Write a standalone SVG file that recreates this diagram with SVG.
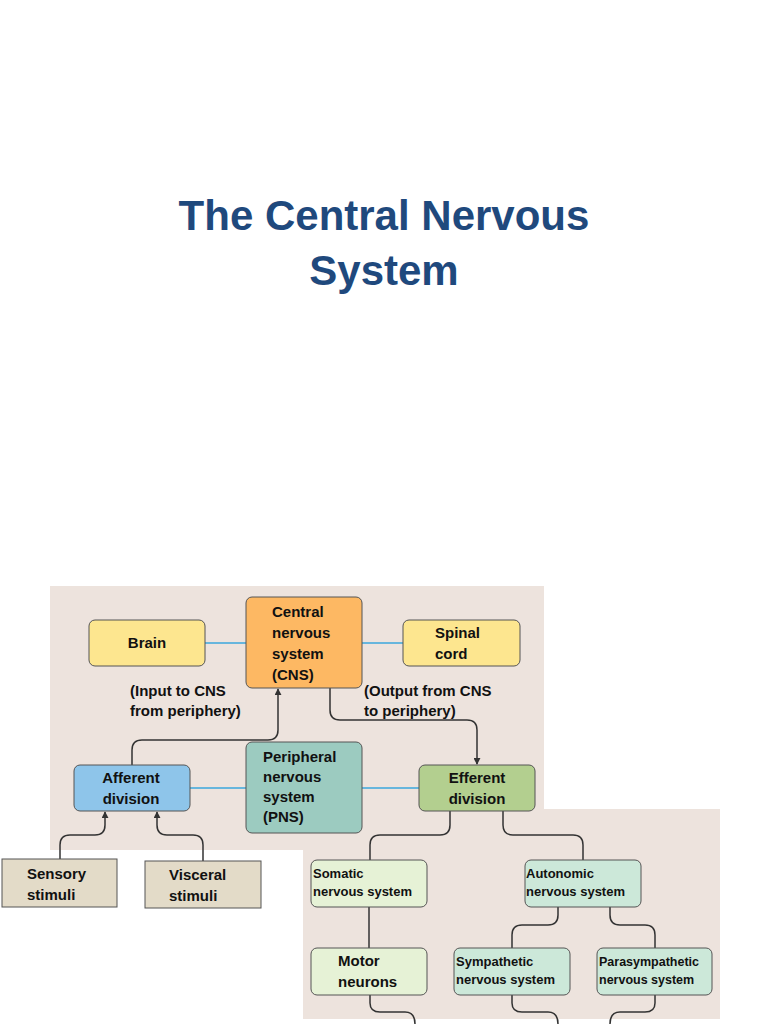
<svg xmlns="http://www.w3.org/2000/svg" width="768" height="1024" viewBox="0 0 768 1024">
<defs>
<marker id="ah" viewBox="0 0 8 8" refX="7" refY="4" markerWidth="7" markerHeight="7" orient="auto" markerUnits="userSpaceOnUse"><path d="M0,0 L8,4 L0,8 z" fill="#333"/></marker>
<style>
.t{font-family:"Liberation Sans",Arial,sans-serif;font-weight:bold;fill:#111}
.m{font-size:15px}.s{font-size:13px}
.b{stroke:#555;stroke-width:1}
.c{fill:none;stroke:#333;stroke-width:1.5}
.bl{stroke:#3aa7dc;stroke-width:1.5}
</style>
</defs>
<rect width="768" height="1024" fill="#fff"/>
<text x="384" y="230" text-anchor="middle" font-family="Liberation Sans,Arial,sans-serif" font-weight="bold" font-size="42" fill="#1f497d">The Central Nervous</text>
<text x="384" y="285" text-anchor="middle" font-family="Liberation Sans,Arial,sans-serif" font-weight="bold" font-size="42" fill="#1f497d">System</text>
<rect x="50" y="586" width="494" height="264" fill="#ede3dd"/>
<rect x="303" y="809" width="417" height="210" fill="#ede3dd"/>
<g id="connectors">
<line class="bl" x1="205" y1="643" x2="246" y2="643"/>
<line class="bl" x1="362" y1="643" x2="403" y2="643"/>
<line class="bl" x1="190" y1="788" x2="246" y2="788"/>
<line class="bl" x1="362" y1="788" x2="419" y2="788"/>
<path class="c" d="M132,765 V750 Q132,740 142,740 H268 Q278,740 278,730 V689" marker-end="url(#ah)"/>
<path class="c" d="M330,688 V710 Q330,720 340,720 H467 Q477,720 477,730 V764" marker-end="url(#ah)"/>
<path class="c" d="M60,859 V845 Q60,835 70,835 H95 Q105,835 105,825 V812" marker-end="url(#ah)"/>
<path class="c" d="M203,861 V845 Q203,835 193,835 H167 Q157,835 157,825 V812" marker-end="url(#ah)"/>
<path class="c" d="M450,811 V825 Q450,835 440,835 H380 Q370,835 370,845 V860"/>
<path class="c" d="M503,811 V825 Q503,835 513,835 H573 Q583,835 583,845 V860"/>
<line class="c" x1="369" y1="907" x2="369" y2="948"/>
<path class="c" d="M558,907 V915 Q558,925 548,925 H522 Q512,925 512,935 V948"/>
<path class="c" d="M610,907 V915 Q610,925 620,925 H645 Q655,925 655,935 V948"/>
<path class="c" d="M370,995 V1003 Q370,1012 380,1012 H405 Q415,1012 415,1024"/>
<path class="c" d="M512,995 V1003 Q512,1012 522,1012 H548 Q558,1012 558,1024"/>
<path class="c" d="M655,995 V1003 Q655,1012 645,1012 H620 Q610,1012 610,1024"/>
</g>
<g id="brain"><rect class="b" x="89" y="620" width="116" height="46" rx="6" fill="#fde68f"/><text class="t m" x="147" y="648" text-anchor="middle">Brain</text></g>
<g id="cns"><rect class="b" x="246" y="597" width="116" height="91" rx="6" fill="#fdb863"/><text class="t m" x="272" y="617">Central<tspan x="272" dy="21">nervous</tspan><tspan x="272" dy="21">system</tspan><tspan x="272" dy="21">(CNS)</tspan></text></g>
<g id="spinal"><rect class="b" x="403" y="620" width="117" height="46" rx="6" fill="#fde68f"/><text class="t m" x="435" y="638">Spinal<tspan x="435" dy="21">cord</tspan></text></g>
<g id="input-label"><text class="t m" x="130" y="696">(Input to CNS<tspan x="130" dy="20">from periphery)</tspan></text></g>
<g id="output-label"><text class="t m" x="364" y="696">(Output from CNS<tspan x="364" dy="20">to periphery)</tspan></text></g>
<g id="afferent"><rect class="b" x="74" y="765" width="116" height="46" rx="6" fill="#8ec5ea"/><text class="t m" x="131" y="783" text-anchor="middle">Afferent<tspan x="131" dy="21">division</tspan></text></g>
<g id="pns"><rect class="b" x="246" y="742" width="116" height="91" rx="6" fill="#9ccbc0"/><text class="t m" x="263" y="762">Peripheral<tspan x="263" dy="20">nervous</tspan><tspan x="263" dy="20">system</tspan><tspan x="263" dy="20">(PNS)</tspan></text></g>
<g id="efferent"><rect class="b" x="419" y="765" width="116" height="46" rx="6" fill="#b3cf8f"/><text class="t m" x="477" y="783" text-anchor="middle">Efferent<tspan x="477" dy="21">division</tspan></text></g>
<g id="sensory"><rect class="b" x="2" y="859" width="115" height="48" fill="#e3dbc8"/><text class="t m" x="27" y="879">Sensory<tspan x="27" dy="21">stimuli</tspan></text></g>
<g id="visceral"><rect class="b" x="145" y="861" width="116" height="47" fill="#e3dbc8"/><text class="t m" x="169" y="880">Visceral<tspan x="169" dy="21">stimuli</tspan></text></g>
<g id="somatic"><rect class="b" x="311" y="860" width="116" height="47" rx="6" fill="#e6f2d6"/><text class="t s" x="313" y="878">Somatic<tspan x="313" dy="18">nervous system</tspan></text></g>
<g id="autonomic"><rect class="b" x="525" y="860" width="116" height="47" rx="6" fill="#cce8d9"/><text class="t s" x="526" y="878">Autonomic<tspan x="526" dy="18">nervous system</tspan></text></g>
<g id="motor"><rect class="b" x="311" y="948" width="116" height="47" rx="6" fill="#e6f2d6"/><text class="t m" x="338" y="966">Motor<tspan x="338" dy="21">neurons</tspan></text></g>
<g id="sympathetic"><rect class="b" x="454" y="948" width="116" height="47" rx="6" fill="#cce8d9"/><text class="t s" x="456" y="966">Sympathetic<tspan x="456" dy="18">nervous system</tspan></text></g>
<g id="parasympathetic"><rect class="b" x="597" y="948" width="115" height="47" rx="6" fill="#cce8d9"/><text class="t" font-size="12.5" x="599" y="966">Parasympathetic<tspan x="599" dy="18">nervous system</tspan></text></g>
</svg>
